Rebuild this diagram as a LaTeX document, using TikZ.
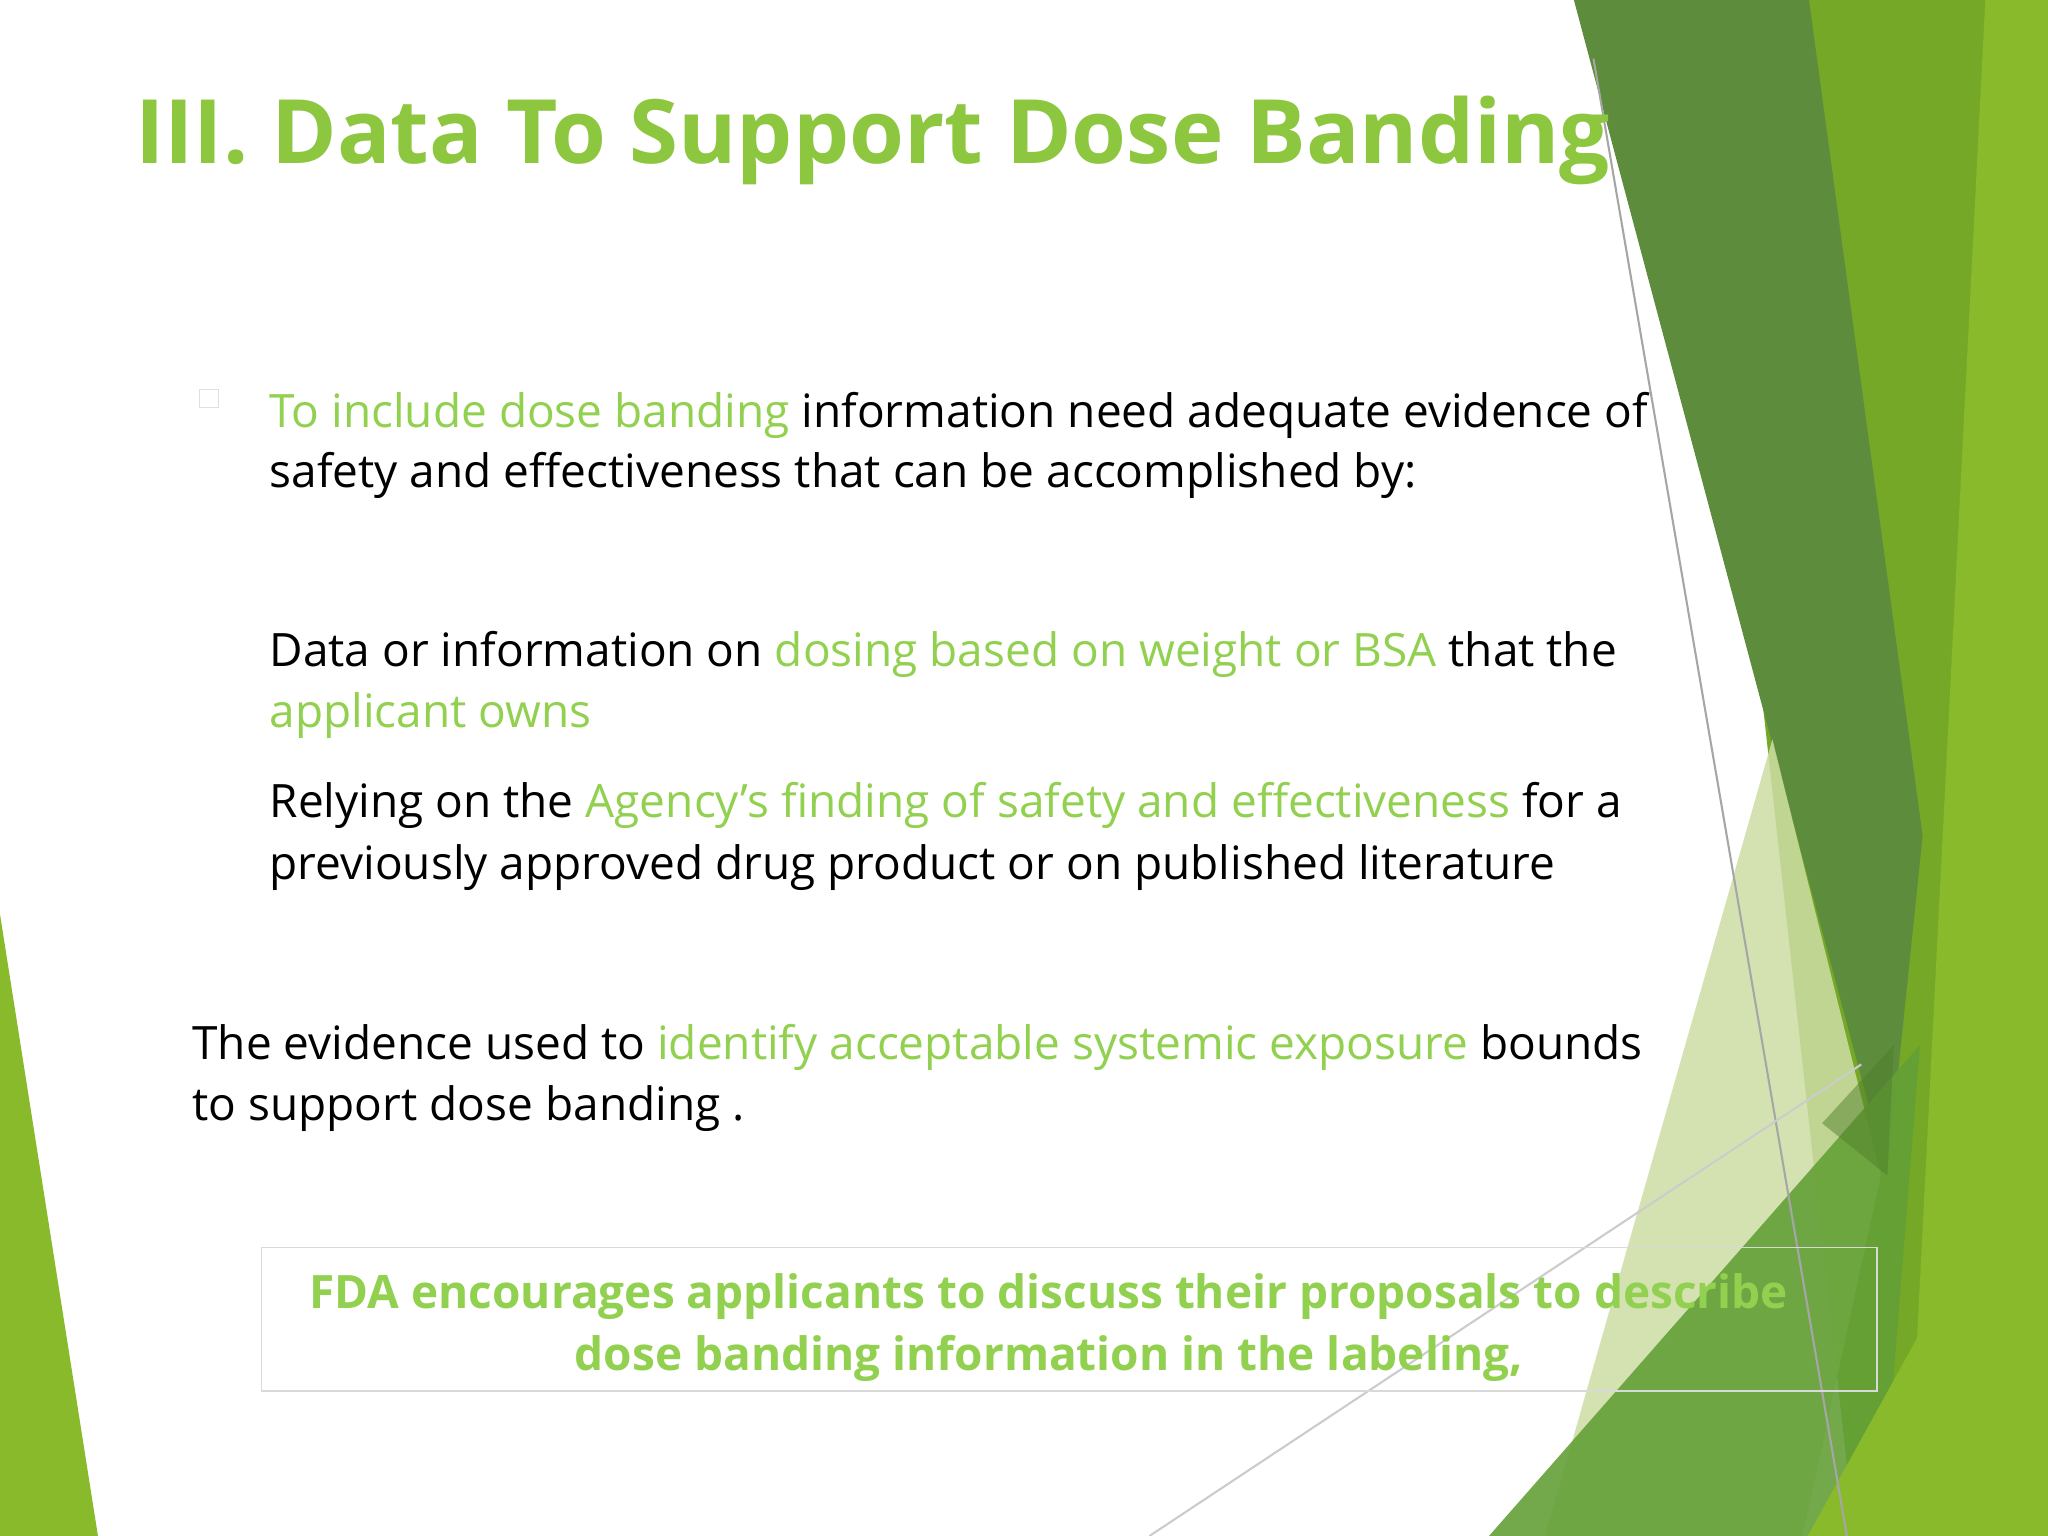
\documentclass[tikz,border=0pt]{standalone}
\usepackage{fontspec}
\setmainfont{Open Sans}
\definecolor{ttl}{RGB}{141,198,63}
\definecolor{lg}{RGB}{146,208,80}
\definecolor{dk}{RGB}{92,140,60}
\definecolor{md}{RGB}{118,168,40}
\definecolor{br}{RGB}{136,186,44}
\definecolor{bg2}{RGB}{100,160,55}
\definecolor{pale}{RGB}{205,222,165}
\begin{document}
\begin{tikzpicture}[x=0.5pt,y=-0.5pt,
  body/.style={anchor=base west,inner sep=0pt,font=\fontsize{17.6}{21}\selectfont},
  fda/.style={anchor=base,inner sep=0pt,font=\fontsize{17.6}{21}\selectfont\bfseries,text=lg}]
\useasboundingbox (0,0) rectangle (1568,1176);
\fill[white] (0,0) rectangle (1568,1176);
% right decoration
\fill[md] (1290,0) -- (1568,0) -- (1568,1176) -- (1420,1176) -- cycle;
\fill[br] (1520,0) -- (1568,0) -- (1568,1176) -- (1460,1176) -- cycle;
\fill[dk] (1205,0) -- (1385,0) -- (1472,640) -- (1445,900) -- cycle;
\fill[pale,opacity=0.85] (1357,566) -- (1440,900) -- (1380,1176) -- (1183,1176) -- cycle;
\fill[bg2,opacity=0.9] (1140,1176) -- (1470,800) -- (1440,1176) -- cycle;
\fill[bg2!80!black,opacity=0.5] (1395,860) -- (1450,800) -- (1445,900) -- cycle;
\fill[br] (1568,843) -- (1568,1176) -- (1384,1176) -- cycle;
\draw[gray!70,line width=0.8] (1220,45) -- (1414,1176);
\draw[gray!40,line width=0.8] (880,1176) -- (1425,815);
% left sliver
\fill[br] (0,700) -- (75,1176) -- (0,1176) -- cycle;
% title
\node[anchor=base west,inner sep=0pt,text=ttl,font=\fontsize{34}{40}\selectfont\bfseries] (title) at (103,125) {III. Data To Support Dose Banding};
% bullet markers
\draw[gray!25] (153,298) rectangle (167,312);
% body
\node[body] (l1) at (206,327) {\textcolor{lg}{To include dose banding} information need adequate evidence of};
\node[body] (l2) at (206,373) {safety and effectiveness that can be accomplished by:};
\node[body] (l3) at (206,510) {Data or information on \textcolor{lg}{dosing based on weight or BSA} that the};
\node[body] (l4) at (206,557) {\textcolor{lg}{applicant owns}};
\node[body] (l5) at (206,626) {Relying on the \textcolor{lg}{Agency’s finding of safety and effectiveness} for a};
\node[body] (l6) at (206,673) {previously approved drug product or on published literature};
\node[body] (l7) at (147,811) {The evidence used to \textcolor{lg}{identify acceptable systemic exposure} bounds};
\node[body] (l8) at (147,858) {to support dose banding .};
\draw[gray!30,line width=0.5] (200,955) rectangle (1437,1065);
\node[fda] (f1) at (803,1002) {FDA encourages applicants to discuss their proposals to describe};
\node[fda] (f2) at (803,1049) {dose banding information in the labeling,};
\end{tikzpicture}
\end{document}
